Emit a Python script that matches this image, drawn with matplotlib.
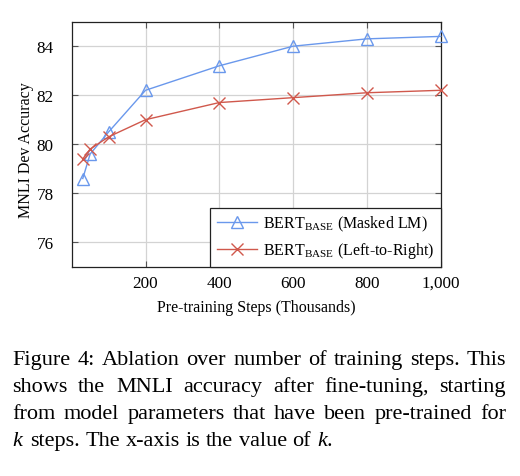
import matplotlib
matplotlib.use('Agg')
import matplotlib.pyplot as plt

plt.rcParams['font.family'] = ['Liberation Serif', 'DejaVu Serif']
plt.rcParams['mathtext.fontset'] = 'custom'
plt.rcParams['mathtext.rm'] = 'Liberation Serif'
plt.rcParams['mathtext.it'] = 'Liberation Serif:italic'
plt.rcParams['mathtext.bf'] = 'Liberation Serif:bold'

# ---- data ----
steps = [30, 50, 100, 200, 400, 600, 800, 1000]
masked_lm = [78.6, 79.6, 80.5, 82.2, 83.2, 84.0, 84.3, 84.4]
left_to_right = [79.4, 79.8, 80.3, 81.0, 81.7, 81.9, 82.1, 82.2]
x_ticks = [200, 400, 600, 800, 1000]
x_tick_labels = ['200', '400', '600', '800', '1,000']
y_ticks = [76, 78, 80, 82, 84]
y_tick_labels = ['76', '78', '80', '82', '84']
series_labels = [r'BERT$_{\mathrm{BASE}}$ (Masked LM)',
                 r'BERT$_{\mathrm{BASE}}$ (Left-to-Right)']
x_label = 'Pre-training Steps (Thousands)'
y_label = 'MNLI Dev Accuracy'
caption_lines = [
    'Figure 4: Ablation over number of training steps. This',
    'shows the MNLI accuracy after fine-tuning, starting',
    'from model parameters that have been pre-trained for',
    r'$k$ steps. The x-axis is the value of $k$.',
]

W, H = 520, 477
fig = plt.figure(figsize=(W / 100, H / 100), dpi=100)
ax = fig.add_axes([71.7 / W, (H - 267.7) / H, 369 / W, 245 / H])

blue = '#6a98ec'
red = '#d0584c'
ax.plot(steps, masked_lm, color=blue, lw=1.0, marker='^', ms=8,
        mfc='none', mec=blue, mew=1.0, label=series_labels[0], clip_on=False, zorder=3)
ax.plot(steps, left_to_right, color=red, lw=1.0, marker='x', ms=8,
        mec=red, mew=1.0, label=series_labels[1], clip_on=False, zorder=3)

ax.set_xlim(0, 1000)
ax.set_ylim(75, 85)
ax.set_xticks(x_ticks)
ax.set_xticklabels(x_tick_labels)
ax.set_yticks(y_ticks)
ax.set_yticklabels(y_tick_labels)
ax.grid(True, color='#d3d3d3', lw=0.9)
ax.set_axisbelow(True)
ax.tick_params(direction='in', length=4, width=0.8, color='#555555',
               top=True, right=True, labelsize=12.3)
ax.tick_params(axis='y', pad=13)
ax.tick_params(axis='x', pad=6)
for s in ax.spines.values():
    s.set_color('#222222')
    s.set_linewidth(0.9)

fig.text(256 / W, 1 - 308 / H, x_label, ha='center', va='center', fontsize=11.5)
fig.text(26 / W, 1 - 150 / H, y_label, ha='center', va='center',
         rotation=90, fontsize=11.5)

leg = ax.legend(loc='lower right', borderaxespad=0, fancybox=False,
                edgecolor='#222222', framealpha=1, fontsize=11.5,
                handlelength=2.5, handletextpad=0.4, labelspacing=0.45,
                borderpad=0.4)
leg.get_frame().set_linewidth(0.9)

# ---- justified caption ----
renderer = fig.canvas.get_renderer()
x0, x1 = 12.3, 506.0
base0, dy = 365.0, 27.0
cap_fs = 16.0
sp_a = fig.text(0, 0, 'a a', fontsize=cap_fs)
sp_b = fig.text(0, 0, 'aa', fontsize=cap_fs)
space = sp_a.get_window_extent(renderer).width - sp_b.get_window_extent(renderer).width
sp_a.remove()
sp_b.remove()
for i, line in enumerate(caption_lines):
    words = line.split(' ')
    texts = [fig.text(0, 0, w, fontsize=cap_fs, ha='left', va='baseline')
             for w in words]
    widths = [t.get_window_extent(renderer).width for t in texts]
    last = (i == len(caption_lines) - 1)
    gap = space if last else (x1 - x0 - sum(widths)) / (len(words) - 1)
    x = x0
    yb = base0 + i * dy
    for t, w in zip(texts, widths):
        t.set_position((x / W, 1 - yb / H))
        x += w + gap

fig.savefig('out.png', dpi=100)
